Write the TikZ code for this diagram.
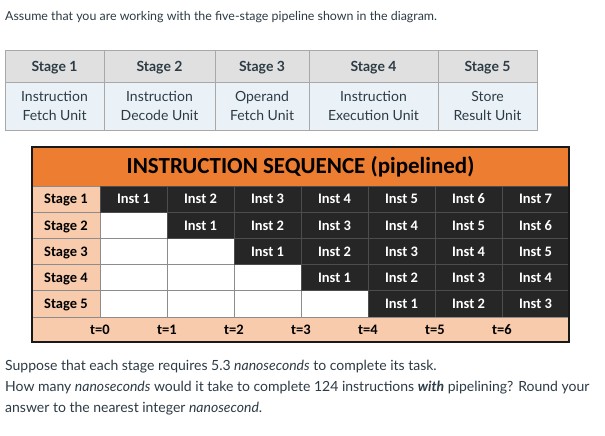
\documentclass[tikz,border=0pt]{standalone}
\usepackage{fontspec}
\setmainfont{Lato}
\newfontfamily\calfont{Carlito}
\usetikzlibrary{fit}
\definecolor{ink}{HTML}{2D3B45}
\definecolor{hdrgray}{HTML}{E0E0E0}
\definecolor{bodyblue}{HTML}{EAF2F8}
\definecolor{tblline}{HTML}{A8A8A8}
\definecolor{orng}{HTML}{ED7D31}
\definecolor{peach}{HTML}{F8CBAD}
\definecolor{darkcell}{HTML}{262626}
\definecolor{darkline}{HTML}{4D4D4D}
\definecolor{lightline}{HTML}{8C8C8C}
\tikzset{
  para/.style={font=\fontsize{14}{17}\selectfont, text=ink, inner sep=0, anchor=base west},
  smallpara/.style={font=\fontsize{12.4}{15}\selectfont, text=ink, inner sep=0, anchor=base west},
  thead/.style={font=\bfseries\fontsize{14}{17}\selectfont, text=ink, inner sep=0, anchor=base},
  tbody/.style={font=\fontsize{14}{17}\selectfont, text=ink, inner sep=0, anchor=base},
  hcell/.style={fill=hdrgray, draw=tblline, line width=1pt, inner sep=0},
  bcell/.style={fill=bodyblue, draw=tblline, line width=1pt, inner sep=0},
  titleband/.style={fill=orng, inner sep=0},
  lblcell/.style={fill=peach, draw=lightline, line width=0.8pt, inner sep=0},
  wcell/.style={fill=white, draw=lightline, line width=0.8pt, inner sep=0},
  dcell/.style={fill=darkcell, draw=darkline, line width=1pt, inner sep=0},
  dtext/.style={font=\calfont\bfseries\fontsize{14.5}{17}\selectfont, inner sep=0, anchor=base},
  ttext/.style={font=\calfont\bfseries\fontsize{23}{26}\selectfont, text=black, inner sep=0, anchor=base},
  framebox/.style={draw=black!90, line width=2.5pt, inner sep=0}
}
\begin{document}
\begin{tikzpicture}[x=1pt,y=-1pt]
\useasboundingbox[fill=white] (0,0) rectangle (605,436);

% intro line
\node[smallpara] (intro) at (5,21) {Assume that you are working with the five-stage pipeline shown in the diagram.};

% top table
\foreach \l/\r/\s/\a/\b [count=\i] in {5/104/Stage 1/Instruction/Fetch Unit,
    104/215/Stage 2/Instruction/Decode Unit,
    215/309/Stage 3/Operand/Fetch Unit,
    309/438/Stage 4/Instruction/Execution Unit,
    438/537/Stage 5/Store/Result Unit} {
  \node[hcell, fit={(\l,51) (\r,82)}] (h\i) {};
  \node[bcell, fit={(\l,82) (\r,130)}] (b\i) {};
  \node[thead] (ht\i) at ({(\l+\r)/2},71) {\s};
  \node[tbody] (ba\i) at ({(\l+\r)/2},101) {\a};
  \node[tbody] (bb\i) at ({(\l+\r)/2},120) {\b};
}

% pipeline diagram
\node[titleband, fit={(32,147) (569,186)}] (band) {};
\node[ttext] (title) at (300.5,173.5) {INSTRUCTION SEQUENCE (pipelined)};
\foreach \s in {1,...,5} {
  \pgfmathsetmacro\ya{186+26.2*(\s-1)}
  \pgfmathsetmacro\yb{186+26.2*\s}
  \node[lblcell, fit={(32,\ya) (100,\yb)}] (L\s) {};
  \node[dtext, text=black] (Lt\s) at (66,{(\ya+\yb)/2+4.7}) {Stage \s};
  \foreach \j in {1,...,7} {
    \pgfmathsetmacro\xa{100+67*(\j-1)}
    \pgfmathsetmacro\xb{100+67*\j}
    \ifnum\j<\s
      \node[wcell, fit={(\xa,\ya) (\xb,\yb)}] (c\s-\j) {};
    \fi
  }
}
\foreach \s in {1,...,5} {
  \pgfmathsetmacro\ya{186+26.2*(\s-1)}
  \pgfmathsetmacro\yb{186+26.2*\s}
  \foreach \j in {1,...,7} {
    \pgfmathsetmacro\xa{100+67*(\j-1)}
    \pgfmathsetmacro\xb{100+67*\j}
    \pgfmathtruncatemacro\n{\j-\s+1}
    \ifnum\j<\s\else
      \node[dcell, fit={(\xa,\ya) (\xb,\yb)}] (c\s-\j) {};
      \node[dtext, text=white] (i\s-\j) at ({(\xa+\xb)/2},{(\ya+\yb)/2+4.7}) {Inst \n};
    \fi
  }
}
\node[lblcell, fit={(32,317) (569,342)}] (trow) {};
\foreach \k in {0,...,6} {
  \node[dtext, text=black] (t\k) at ({100+67*\k},334.5) {t=\k};
}
\node[framebox, fit={(32,147) (569,342)}] (frame) {};

% question text
\node[para] (q1) at (5,370) {Suppose that each stage requires 5.3 \textit{nanoseconds} to complete its task.};
\node[para] (q2) at (5,391) {How many \textit{nanoseconds} would it take to complete 124 instructions \textbf{\textit{with}} pipelining? Round your};
\node[para] (q3) at (5,412) {answer to the nearest integer \textit{nanosecond}.};
\end{tikzpicture}
\end{document}
